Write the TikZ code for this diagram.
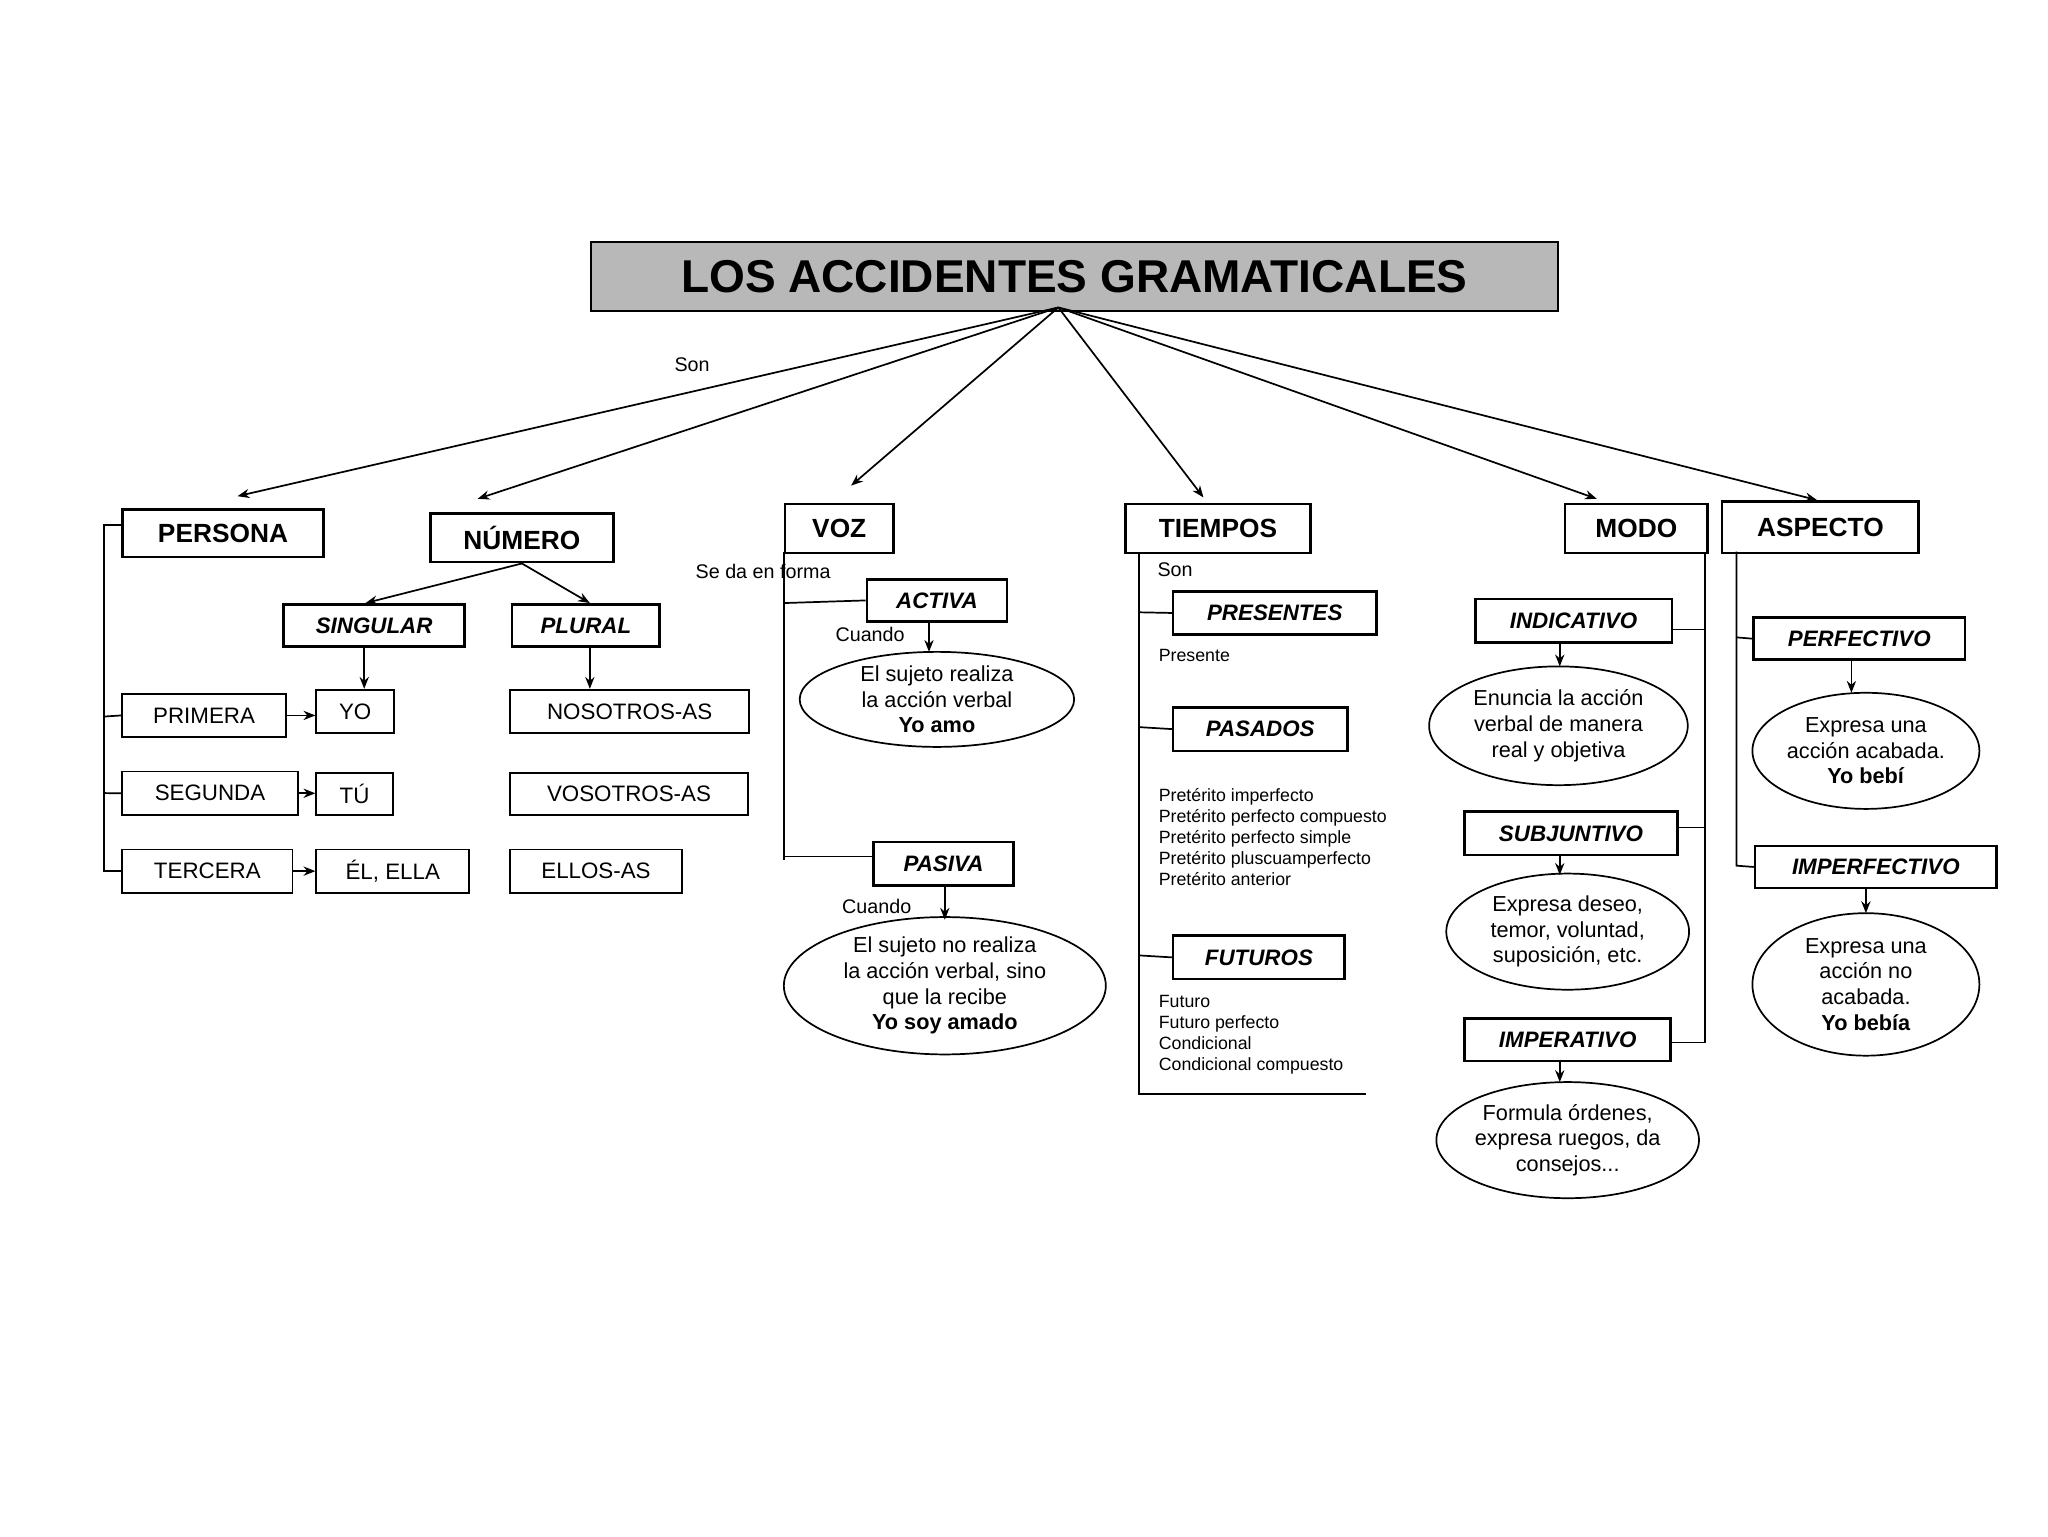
\documentclass[tikz,border=0pt]{standalone}
\usepackage{fontspec}
\setmainfont{Liberation Sans}
\usetikzlibrary{arrows.meta,shapes.geometric}
\begin{document}
\begin{tikzpicture}[x=1bp,y=-1bp,
  every node/.style={inner sep=0pt},
  bx/.style={draw,line width=1.3bp,anchor=north west,font=\fontsize{17}{19}\selectfont},
  hb/.style={bx,line width=2bp,font=\fontsize{20}{22}\selectfont\bfseries},
  ib/.style={bx,line width=2bp,font=\fontsize{17}{19}\selectfont\bfseries\itshape},
  el/.style={draw,line width=1.3bp,ellipse,align=center,font=\fontsize{16.5}{19.5}\selectfont},
  lab/.style={font=\fontsize{15}{17}\selectfont,anchor=west},
  sm/.style={font=\fontsize{13.5}{16}\selectfont,anchor=north west,align=left},
  ar/.style={-{Stealth[length=9bp,width=7bp]},line width=1.3bp},
  ln/.style={line width=1.3bp}]
\useasboundingbox (0,0) rectangle (1552,1164);
\node[draw,line width=1.3bp,fill=black!28,anchor=north west,minimum width=733bp,minimum height=52bp,font=\fontsize{35}{38}\selectfont\bfseries] (title) at (447,183) {LOS ACCIDENTES GRAMATICALES};
\coordinate (apex) at (802,233);
\node[lab] (son) at (511,276) {Son};
% top level
\node[hb,minimum width=152bp,minimum height=36bp] (persona) at (92,385) {PERSONA};
\node[hb,minimum width=139bp,minimum height=37bp] (numero) at (325,388) {NÚMERO};
\node[hb,minimum width=82bp,minimum height=37bp] (voz) at (594,381) {VOZ};
\node[hb,minimum width=140bp,minimum height=37bp] (tiempos) at (852,381) {TIEMPOS};
\node[hb,minimum width=108bp,minimum height=37bp] (modo) at (1185,381) {MODO};
\node[hb,minimum width=149bp,minimum height=39bp] (aspecto) at (1304,379) {ASPECTO};
\coordinate (tp) at (180,376); \coordinate (tn) at (362,378); \coordinate (tv) at (645,368);
\coordinate (tt) at (912,377); \coordinate (tm) at (1210,378); \coordinate (ta) at (1377,379);
\foreach \t in {tp,tn,tv,tt,tm,ta} \draw[ar] (apex) -- (\t);
% persona
\node[bx,minimum width=124bp,minimum height=33bp] (primera) at (92,525) {PRIMERA};
\node[bx,minimum width=133bp,minimum height=33bp] (segunda) at (92,584) {SEGUNDA};
\node[bx,minimum width=129bp,minimum height=33bp] (tercera) at (92,643) {TERCERA};
\node[bx,minimum width=59bp,minimum height=33bp] (yo) at (239,522) {YO};
\node[bx,minimum width=58bp,minimum height=32bp] (tu) at (239,585) {TÚ};
\node[bx,minimum width=116bp,minimum height=33bp] (el) at (239,643) {ÉL, ELLA};
\draw[ln] (92,398) -- (79,398) |- (tercera.west);
\draw[ln] (79,543) -- (primera.west);
\draw[ln] (79,601) -- (segunda.west);
\draw[ar] (primera.east) -- (yo.west|-primera.east);
\draw[ar] (segunda.east) -- (tu.west|-segunda.east);
\draw[ar] (tercera.east) -- (el.west|-tercera.east);
% numero
\node[ib,minimum width=137bp,minimum height=32bp] (singular) at (214,457) {SINGULAR};
\node[ib,minimum width=112bp,minimum height=32bp] (plural) at (387,457) {PLURAL};
\node[bx,minimum width=181bp,minimum height=33bp] (nosotros) at (386,522) {NOSOTROS-AS};
\node[bx,minimum width=180bp,minimum height=32bp] (vosotros) at (386,585) {VOSOTROS-AS};
\node[bx,minimum width=130bp,minimum height=33bp] (ellos) at (386,643) {ELLOS-AS};
\draw[ar] (numero.south) -- (277,457);
\draw[ar] (numero.south) -- (447,457);
\draw[ar] (276,489) -- (276,522);
\draw[ar] (447,489) -- (447,522);
% voz
\node[ib,minimum width=106bp,minimum height=32bp] (activa) at (656,438) {ACTIVA};
\node[ib,minimum width=106bp,minimum height=33bp] (pasiva) at (661,637) {PASIVA};
\draw[ln] (594,418) -- (594,652);
\draw[ln] (594,457) -- (activa.west);
\draw[ln] (594,649) -- (661,649);
\node[lab] at (527,433) {Se da en forma};
\node[lab] at (633,481) {Cuando};
\node[lab] at (638,687) {Cuando};
\node[el,minimum width=208bp,minimum height=72bp] (e1) at (710,530) {El sujeto realiza\\la acción verbal\\\textbf{Yo amo}};
\node[el,minimum width=244bp,minimum height=104bp] (e2) at (716,747) {El sujeto no realiza\\la acción verbal, sino\\que la recibe\\\textbf{Yo soy amado}};
\draw[ar] (704,470) -- (704,494);
\draw[ar] (716,670) -- (716,697);
% tiempos
\node[ib,minimum width=154bp,minimum height=33bp] (presentes) at (888,447) {PRESENTES};
\node[ib,minimum width=132bp,minimum height=33bp] (pasados) at (888,535) {PASADOS};
\node[ib,minimum width=130bp,minimum height=33bp] (futuros) at (888,708) {FUTUROS};
\draw[ln] (863,418) -- (863,829) -- (1035,829);
\draw[ln] (863,464) -- (presentes.west);
\draw[ln] (863,551) -- (pasados.west);
\draw[ln] (863,724) -- (futuros.west);
\node[lab] at (877,432) {Son};
\node[sm] (pres) at (878,492) {Presente};
\node[sm] (pas) at (878,597) {Pretérito imperfecto\\Pretérito perfecto compuesto\\Pretérito perfecto simple\\Pretérito pluscuamperfecto\\Pretérito anterior};
\node[sm] (fut) at (878,754) {Futuro\\Futuro perfecto\\Condicional\\Condicional compuesto};
% modo
\node[ib,minimum width=149bp,minimum height=33bp] (indic) at (1117,453) {INDICATIVO};
\node[ib,minimum width=161bp,minimum height=33bp] (subj) at (1109,614) {SUBJUNTIVO};
\node[ib,minimum width=156bp,minimum height=32bp] (imper) at (1109,771) {IMPERATIVO};
\draw[ln] (1292,418) -- (1292,790) -- (1265,790);
\draw[ln] (1292,477) -- (1266,477);
\draw[ln] (1292,627) -- (1270,627);
\node[el,minimum width=196bp,minimum height=90bp] (e3) at (1181,550) {Enuncia la acción\\verbal de manera\\real y objetiva};
\node[el,minimum width=184bp,minimum height=88bp] (e4) at (1188,706) {Expresa deseo,\\temor, voluntad,\\suposición, etc.};
\node[el,minimum width=184bp,minimum height=88bp] (e5) at (1188,864) {Formula órdenes,\\expresa ruegos, da\\consejos...};
\draw[ar] (1182,486) -- (1182,505);
\draw[ar] (1182,647) -- (1182,663);
\draw[ar] (1182,803) -- (1182,820);
% aspecto
\node[ib,minimum width=160bp,minimum height=32bp] (perf) at (1328,467) {PERFECTIVO};
\node[ib,minimum width=183bp,minimum height=32bp] (imperf) at (1329,640) {IMPERFECTIVO};
\draw[ln] (1316,418) -- (1316,656) -- (imperf.west);
\draw[ln] (1316,483) -- (perf.west);
\node[el,minimum width=172bp,minimum height=88bp] (e6) at (1414,569) {Expresa una\\acción acabada.\\\textbf{Yo bebí}};
\node[el,minimum width=172bp,minimum height=108bp] (e7) at (1414,746) {Expresa una\\acción no\\acabada.\\\textbf{Yo bebía}};
\draw[ar] (1403,499) -- (1403,525);
\draw[ar] (1414,672) -- (1414,692);
\end{tikzpicture}
\end{document}
